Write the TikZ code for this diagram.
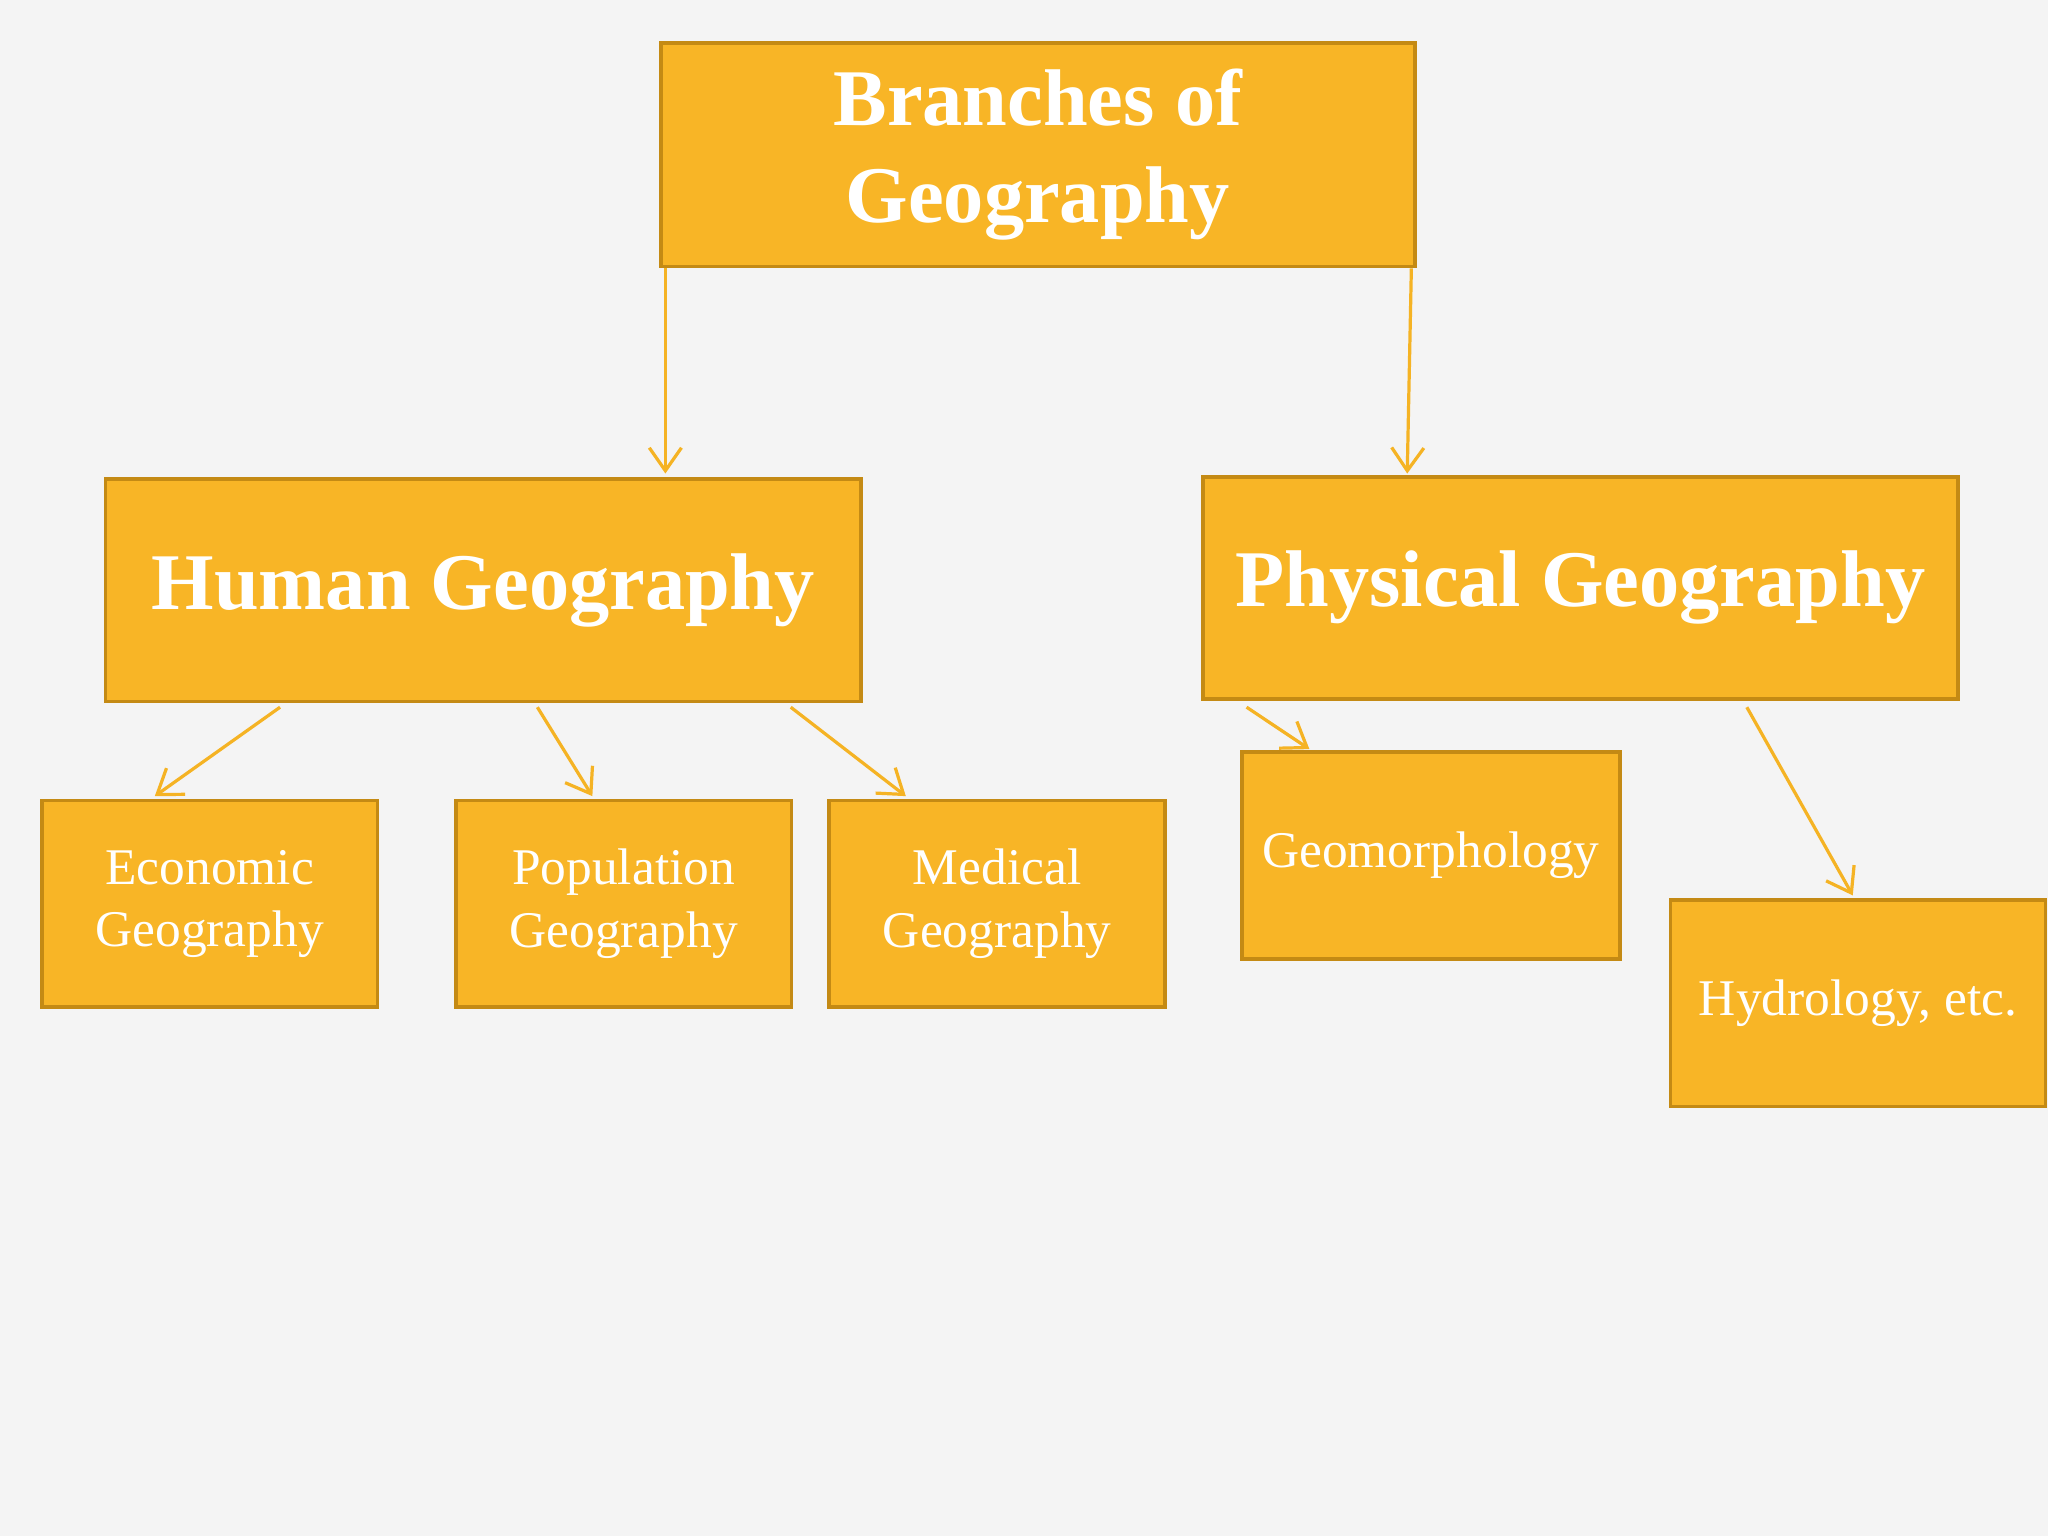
\documentclass[tikz,border=0pt]{standalone}
\usepackage{fontspec}
\setmainfont{Liberation Serif}
\usetikzlibrary{arrows.meta,calc}
\definecolor{boxfill}{HTML}{F8B526}
\definecolor{boxline}{HTML}{C48A14}
\definecolor{arr}{HTML}{F5B324}
\definecolor{bg}{HTML}{F4F4F4}
\begin{document}
\begin{tikzpicture}[x=0.01cm,y=-0.01cm,
  box/.style={draw=boxline,fill=boxfill,line width=0.8pt,text=white,align=center,inner sep=0pt},
  big/.style={font=\fontsize{17.5}{21}\selectfont\bfseries},
  small/.style={font=\fontsize{11.2}{13.6}\selectfont},
  conn/.style={draw=arr,line width=0.7pt,-{Straight Barb[length=5pt,width=7pt]}}]
\fill[bg] (0,0) rectangle (1568,1176);
\useasboundingbox (0,0) rectangle (1568,1176);
\node[box,big,minimum width=5.77cm,minimum height=1.71cm] (top) at (794.5,118.5) {Branches of\\Geography};
\node[box,big,minimum width=5.78cm,minimum height=1.70cm] (hum) at (370,452) {Human Geography};
\node[box,big,minimum width=5.78cm,minimum height=1.70cm] (phy) at (1210,450) {Physical Geography};
\node[box,small,minimum width=2.57cm,minimum height=1.58cm] (eco) at (160.5,692) {Economic\\Geography};
\node[box,small,minimum width=2.57cm,minimum height=1.58cm] (pop) at (477.5,692) {Population\\Geography};
\node[box,small,minimum width=2.57cm,minimum height=1.58cm] (med) at (763.5,692) {Medical\\Geography};
\node[box,small,minimum width=2.89cm,minimum height=1.58cm] (geo) at (1095.5,655) {Geomorphology};
\node[box,small,minimum width=2.87cm,minimum height=1.58cm] (hyd) at (1422.5,768) {Hydrology, etc.};
\draw[conn] ($(top.south west)+(5,0)$) -- ($(hum.north west)+(430,-3)$);
\draw[conn] ($(top.south east)+(-4,0)$) -- ($(phy.north west)+(158,-1)$);
\draw[conn] ($(hum.south west)+(135,3)$) -- ($(eco.north west)+(88,-2)$);
\draw[conn] ($(hum.south west)+(332,3)$) -- ($(pop.north west)+(106,-2)$);
\draw[conn] ($(hum.south west)+(526,3)$) -- ($(med.north west)+(60,-2)$);
\draw[conn] ($(phy.south west)+(35,5)$) -- ($(geo.north west)+(53,-1)$);
\draw[conn] ($(phy.south west)+(418,5)$) -- ($(hyd.north west)+(141,-2)$);
\end{tikzpicture}
\end{document}
